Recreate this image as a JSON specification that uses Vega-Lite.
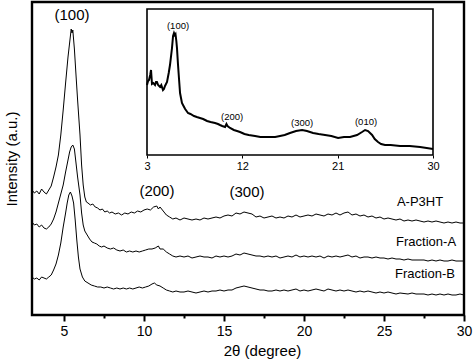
{
"$schema": "https://vega.github.io/schema/vega-lite/v6.json",
"width": 432, "height": 313,
"autosize": "none",
"padding": {"left": 32, "top": 2, "right": 10, "bottom": 49},
"config": {"font": "Liberation Sans", "view": {"stroke": "black", "strokeWidth": 2.4}, "axis": {"grid": false, "labelColor": "black", "titleColor": "black", "tickColor": "black"}},
"datasets": {
"main": [
{"s":"A","t":3.0,"I":125},{"s":"A","t":3.15,"I":122},{"s":"A","t":3.3,"I":124},{"s":"A","t":3.45,"I":121},{"s":"A","t":3.6,"I":126},{"s":"A","t":3.75,"I":123},{"s":"A","t":3.9,"I":121},{"s":"A","t":4.05,"I":125},{"s":"A","t":4.2,"I":129},{"s":"A","t":4.35,"I":138},{"s":"A","t":4.5,"I":148},{"s":"A","t":4.65,"I":160},{"s":"A","t":4.8,"I":180},{"s":"A","t":4.95,"I":205},{"s":"A","t":5.1,"I":232},{"s":"A","t":5.25,"I":258},{"s":"A","t":5.35,"I":272},{"s":"A","t":5.45,"I":286},{"s":"A","t":5.5,"I":282},{"s":"A","t":5.55,"I":285},{"s":"A","t":5.65,"I":266},{"s":"A","t":5.75,"I":240},{"s":"A","t":5.85,"I":215},{"s":"A","t":6.0,"I":180},{"s":"A","t":6.1,"I":150},{"s":"A","t":6.2,"I":130},{"s":"A","t":6.3,"I":118},{"s":"A","t":6.4,"I":113},{"s":"A","t":6.5,"I":112},{"s":"A","t":6.65,"I":110},{"s":"A","t":6.8,"I":111},{"s":"A","t":6.95,"I":108},{"s":"A","t":7.1,"I":107},{"s":"A","t":7.25,"I":105},{"s":"A","t":7.4,"I":106},{"s":"A","t":7.55,"I":103},{"s":"A","t":7.7,"I":104},{"s":"A","t":7.85,"I":102},{"s":"A","t":8.0,"I":103},{"s":"A","t":8.2,"I":101},{"s":"A","t":8.4,"I":102},{"s":"A","t":8.6,"I":100},{"s":"A","t":8.8,"I":102},{"s":"A","t":9.0,"I":101},{"s":"A","t":9.2,"I":103},{"s":"A","t":9.4,"I":102},{"s":"A","t":9.6,"I":104},{"s":"A","t":9.8,"I":103},{"s":"A","t":10.0,"I":105},{"s":"A","t":10.2,"I":106},{"s":"A","t":10.4,"I":105},{"s":"A","t":10.6,"I":108},{"s":"A","t":10.8,"I":109},{"s":"A","t":10.9,"I":106},{"s":"A","t":11.0,"I":108},{"s":"A","t":11.2,"I":104},{"s":"A","t":11.4,"I":100},{"s":"A","t":11.6,"I":98},{"s":"A","t":11.8,"I":96},{"s":"A","t":12.0,"I":97},{"s":"A","t":12.25,"I":95},{"s":"A","t":12.5,"I":97},{"s":"A","t":12.75,"I":96},{"s":"A","t":13.0,"I":95},{"s":"A","t":13.25,"I":96},{"s":"A","t":13.5,"I":95},{"s":"A","t":13.75,"I":97},{"s":"A","t":14.0,"I":96},{"s":"A","t":14.25,"I":97},{"s":"A","t":14.5,"I":98},{"s":"A","t":14.75,"I":97},{"s":"A","t":15.0,"I":99},{"s":"A","t":15.25,"I":100},{"s":"A","t":15.5,"I":99},{"s":"A","t":15.75,"I":102},{"s":"A","t":16.0,"I":101},{"s":"A","t":16.25,"I":103},{"s":"A","t":16.5,"I":102},{"s":"A","t":16.75,"I":101},{"s":"A","t":17.0,"I":98},{"s":"A","t":17.25,"I":99},{"s":"A","t":17.5,"I":97},{"s":"A","t":17.75,"I":98},{"s":"A","t":18.0,"I":99},{"s":"A","t":18.25,"I":97},{"s":"A","t":18.5,"I":98},{"s":"A","t":18.75,"I":97},{"s":"A","t":19.0,"I":99},{"s":"A","t":19.25,"I":98},{"s":"A","t":19.5,"I":100},{"s":"A","t":19.75,"I":98},{"s":"A","t":20.0,"I":99},{"s":"A","t":20.25,"I":100},{"s":"A","t":20.5,"I":99},{"s":"A","t":20.75,"I":101},{"s":"A","t":21.0,"I":100},{"s":"A","t":21.25,"I":99},{"s":"A","t":21.5,"I":101},{"s":"A","t":21.75,"I":100},{"s":"A","t":22.0,"I":102},{"s":"A","t":22.25,"I":100},{"s":"A","t":22.5,"I":102},{"s":"A","t":22.75,"I":103},{"s":"A","t":23.0,"I":100},{"s":"A","t":23.25,"I":101},{"s":"A","t":23.5,"I":99},{"s":"A","t":23.75,"I":100},{"s":"A","t":24.0,"I":98},{"s":"A","t":24.25,"I":99},{"s":"A","t":24.5,"I":97},{"s":"A","t":24.75,"I":98},{"s":"A","t":25.0,"I":96},{"s":"A","t":25.25,"I":97},{"s":"A","t":25.5,"I":96},{"s":"A","t":25.75,"I":95},{"s":"A","t":26.0,"I":96},{"s":"A","t":26.25,"I":94},{"s":"A","t":26.5,"I":95},{"s":"A","t":26.75,"I":94},{"s":"A","t":27.0,"I":95},{"s":"A","t":27.5,"I":93},{"s":"A","t":27.75,"I":94},{"s":"A","t":28.0,"I":93},{"s":"A","t":28.25,"I":94},{"s":"A","t":28.5,"I":93},{"s":"A","t":28.75,"I":92},{"s":"A","t":29.0,"I":93},{"s":"A","t":29.25,"I":92},{"s":"A","t":29.5,"I":93},{"s":"A","t":29.75,"I":92},{"s":"A","t":30.0,"I":92},
{"s":"FA","t":3.0,"I":93},{"s":"FA","t":3.15,"I":90},{"s":"FA","t":3.3,"I":91},{"s":"FA","t":3.45,"I":88},{"s":"FA","t":3.6,"I":90},{"s":"FA","t":3.75,"I":87},{"s":"FA","t":3.9,"I":86},{"s":"FA","t":4.05,"I":88},{"s":"FA","t":4.2,"I":91},{"s":"FA","t":4.35,"I":96},{"s":"FA","t":4.5,"I":103},{"s":"FA","t":4.65,"I":112},{"s":"FA","t":4.8,"I":121},{"s":"FA","t":4.95,"I":130},{"s":"FA","t":5.1,"I":143},{"s":"FA","t":5.25,"I":155},{"s":"FA","t":5.35,"I":163},{"s":"FA","t":5.45,"I":168},{"s":"FA","t":5.55,"I":170},{"s":"FA","t":5.65,"I":166},{"s":"FA","t":5.75,"I":152},{"s":"FA","t":5.85,"I":138},{"s":"FA","t":6.0,"I":120},{"s":"FA","t":6.1,"I":102},{"s":"FA","t":6.2,"I":90},{"s":"FA","t":6.3,"I":84},{"s":"FA","t":6.45,"I":80},{"s":"FA","t":6.6,"I":76},{"s":"FA","t":6.75,"I":73},{"s":"FA","t":6.9,"I":72},{"s":"FA","t":7.05,"I":71},{"s":"FA","t":7.2,"I":69},{"s":"FA","t":7.35,"I":68},{"s":"FA","t":7.5,"I":69},{"s":"FA","t":7.7,"I":67},{"s":"FA","t":7.9,"I":66},{"s":"FA","t":8.1,"I":67},{"s":"FA","t":8.3,"I":65},{"s":"FA","t":8.5,"I":64},{"s":"FA","t":8.7,"I":65},{"s":"FA","t":8.9,"I":63},{"s":"FA","t":9.1,"I":64},{"s":"FA","t":9.3,"I":63},{"s":"FA","t":9.5,"I":64},{"s":"FA","t":9.7,"I":63},{"s":"FA","t":9.9,"I":64},{"s":"FA","t":10.1,"I":65},{"s":"FA","t":10.3,"I":66},{"s":"FA","t":10.5,"I":66},{"s":"FA","t":10.7,"I":67},{"s":"FA","t":10.9,"I":69},{"s":"FA","t":11.0,"I":66},{"s":"FA","t":11.2,"I":66},{"s":"FA","t":11.4,"I":63},{"s":"FA","t":11.6,"I":61},{"s":"FA","t":11.8,"I":59},{"s":"FA","t":12.0,"I":58},{"s":"FA","t":12.25,"I":59},{"s":"FA","t":12.5,"I":58},{"s":"FA","t":12.75,"I":59},{"s":"FA","t":13.0,"I":57},{"s":"FA","t":13.25,"I":58},{"s":"FA","t":13.5,"I":59},{"s":"FA","t":13.75,"I":58},{"s":"FA","t":14.0,"I":58},{"s":"FA","t":14.25,"I":57},{"s":"FA","t":14.5,"I":59},{"s":"FA","t":14.75,"I":58},{"s":"FA","t":15.0,"I":59},{"s":"FA","t":15.25,"I":58},{"s":"FA","t":15.5,"I":59},{"s":"FA","t":15.75,"I":61},{"s":"FA","t":16.0,"I":60},{"s":"FA","t":16.25,"I":62},{"s":"FA","t":16.5,"I":61},{"s":"FA","t":16.75,"I":60},{"s":"FA","t":17.0,"I":59},{"s":"FA","t":17.25,"I":59},{"s":"FA","t":17.5,"I":58},{"s":"FA","t":17.75,"I":59},{"s":"FA","t":18.0,"I":58},{"s":"FA","t":18.25,"I":59},{"s":"FA","t":18.5,"I":57},{"s":"FA","t":18.75,"I":58},{"s":"FA","t":19.0,"I":59},{"s":"FA","t":19.25,"I":58},{"s":"FA","t":19.5,"I":60},{"s":"FA","t":19.75,"I":58},{"s":"FA","t":20.0,"I":59},{"s":"FA","t":20.25,"I":58},{"s":"FA","t":20.5,"I":59},{"s":"FA","t":20.75,"I":58},{"s":"FA","t":21.0,"I":59},{"s":"FA","t":21.25,"I":57},{"s":"FA","t":21.5,"I":59},{"s":"FA","t":21.75,"I":58},{"s":"FA","t":22.0,"I":59},{"s":"FA","t":22.25,"I":58},{"s":"FA","t":22.5,"I":59},{"s":"FA","t":22.75,"I":60},{"s":"FA","t":23.0,"I":58},{"s":"FA","t":23.25,"I":59},{"s":"FA","t":23.5,"I":57},{"s":"FA","t":23.75,"I":58},{"s":"FA","t":24.0,"I":58},{"s":"FA","t":24.25,"I":57},{"s":"FA","t":24.5,"I":58},{"s":"FA","t":24.75,"I":57},{"s":"FA","t":25.0,"I":57},{"s":"FA","t":25.25,"I":56},{"s":"FA","t":25.5,"I":57},{"s":"FA","t":25.75,"I":56},{"s":"FA","t":26.0,"I":56},{"s":"FA","t":26.25,"I":55},{"s":"FA","t":26.5,"I":56},{"s":"FA","t":26.75,"I":55},{"s":"FA","t":27.0,"I":55},{"s":"FA","t":27.5,"I":55},{"s":"FA","t":27.75,"I":54},{"s":"FA","t":28.0,"I":55},{"s":"FA","t":28.25,"I":54},{"s":"FA","t":28.5,"I":55},{"s":"FA","t":28.75,"I":54},{"s":"FA","t":29.0,"I":54},{"s":"FA","t":29.25,"I":55},{"s":"FA","t":29.5,"I":54},{"s":"FA","t":29.75,"I":54},{"s":"FA","t":30.0,"I":54},
{"s":"FB","t":3.0,"I":38},{"s":"FB","t":3.15,"I":36},{"s":"FB","t":3.3,"I":37},{"s":"FB","t":3.45,"I":35},{"s":"FB","t":3.6,"I":38},{"s":"FB","t":3.75,"I":37},{"s":"FB","t":3.9,"I":36},{"s":"FB","t":4.05,"I":38},{"s":"FB","t":4.2,"I":40},{"s":"FB","t":4.35,"I":45},{"s":"FB","t":4.5,"I":51},{"s":"FB","t":4.65,"I":60},{"s":"FB","t":4.8,"I":72},{"s":"FB","t":4.95,"I":88},{"s":"FB","t":5.1,"I":102},{"s":"FB","t":5.2,"I":112},{"s":"FB","t":5.3,"I":120},{"s":"FB","t":5.4,"I":123},{"s":"FB","t":5.5,"I":119},{"s":"FB","t":5.6,"I":112},{"s":"FB","t":5.7,"I":95},{"s":"FB","t":5.8,"I":75},{"s":"FB","t":5.9,"I":58},{"s":"FB","t":6.0,"I":46},{"s":"FB","t":6.15,"I":38},{"s":"FB","t":6.3,"I":34},{"s":"FB","t":6.5,"I":32},{"s":"FB","t":6.7,"I":30},{"s":"FB","t":6.9,"I":29},{"s":"FB","t":7.1,"I":28},{"s":"FB","t":7.3,"I":28},{"s":"FB","t":7.5,"I":27},{"s":"FB","t":7.7,"I":28},{"s":"FB","t":7.9,"I":27},{"s":"FB","t":8.1,"I":26},{"s":"FB","t":8.3,"I":27},{"s":"FB","t":8.5,"I":26},{"s":"FB","t":8.7,"I":27},{"s":"FB","t":8.9,"I":26},{"s":"FB","t":9.1,"I":27},{"s":"FB","t":9.3,"I":26},{"s":"FB","t":9.5,"I":27},{"s":"FB","t":9.7,"I":28},{"s":"FB","t":9.9,"I":27},{"s":"FB","t":10.1,"I":28},{"s":"FB","t":10.3,"I":29},{"s":"FB","t":10.5,"I":31},{"s":"FB","t":10.65,"I":32},{"s":"FB","t":10.8,"I":30},{"s":"FB","t":11.0,"I":29},{"s":"FB","t":11.2,"I":27},{"s":"FB","t":11.4,"I":25},{"s":"FB","t":11.6,"I":24},{"s":"FB","t":11.8,"I":23},{"s":"FB","t":12.0,"I":24},{"s":"FB","t":12.25,"I":23},{"s":"FB","t":12.5,"I":23},{"s":"FB","t":12.75,"I":24},{"s":"FB","t":13.0,"I":23},{"s":"FB","t":13.25,"I":22},{"s":"FB","t":13.5,"I":23},{"s":"FB","t":13.75,"I":24},{"s":"FB","t":14.0,"I":23},{"s":"FB","t":14.25,"I":24},{"s":"FB","t":14.5,"I":24},{"s":"FB","t":14.75,"I":25},{"s":"FB","t":15.0,"I":24},{"s":"FB","t":15.25,"I":25},{"s":"FB","t":15.5,"I":25},{"s":"FB","t":15.75,"I":27},{"s":"FB","t":16.0,"I":28},{"s":"FB","t":16.25,"I":29},{"s":"FB","t":16.5,"I":28},{"s":"FB","t":16.75,"I":27},{"s":"FB","t":17.0,"I":26},{"s":"FB","t":17.25,"I":25},{"s":"FB","t":17.5,"I":25},{"s":"FB","t":17.75,"I":24},{"s":"FB","t":18.0,"I":24},{"s":"FB","t":18.25,"I":25},{"s":"FB","t":18.5,"I":24},{"s":"FB","t":18.75,"I":25},{"s":"FB","t":19.0,"I":24},{"s":"FB","t":19.25,"I":25},{"s":"FB","t":19.5,"I":26},{"s":"FB","t":19.75,"I":24},{"s":"FB","t":20.0,"I":25},{"s":"FB","t":20.25,"I":24},{"s":"FB","t":20.5,"I":25},{"s":"FB","t":20.75,"I":26},{"s":"FB","t":21.0,"I":25},{"s":"FB","t":21.25,"I":24},{"s":"FB","t":21.5,"I":26},{"s":"FB","t":21.75,"I":25},{"s":"FB","t":22.0,"I":24},{"s":"FB","t":22.25,"I":25},{"s":"FB","t":22.5,"I":24},{"s":"FB","t":22.75,"I":25},{"s":"FB","t":23.0,"I":24},{"s":"FB","t":23.25,"I":23},{"s":"FB","t":23.5,"I":24},{"s":"FB","t":23.75,"I":23},{"s":"FB","t":24.0,"I":24},{"s":"FB","t":24.25,"I":23},{"s":"FB","t":24.5,"I":22},{"s":"FB","t":24.75,"I":23},{"s":"FB","t":25.0,"I":22},{"s":"FB","t":25.25,"I":23},{"s":"FB","t":25.5,"I":22},{"s":"FB","t":25.75,"I":21},{"s":"FB","t":26.0,"I":22},{"s":"FB","t":26.5,"I":21},{"s":"FB","t":26.75,"I":22},{"s":"FB","t":27.0,"I":21},{"s":"FB","t":27.5,"I":21},{"s":"FB","t":27.75,"I":20},{"s":"FB","t":28.0,"I":21},{"s":"FB","t":28.25,"I":20},{"s":"FB","t":28.5,"I":21},{"s":"FB","t":28.75,"I":20},{"s":"FB","t":29.0,"I":21},{"s":"FB","t":29.25,"I":20},{"s":"FB","t":29.5,"I":20},{"s":"FB","t":29.75,"I":21},{"s":"FB","t":30.0,"I":20}
],
"inset": [
{"t":3.0,"I":70},{"t":3.1,"I":74},{"t":3.19,"I":75},{"t":3.3,"I":80},{"t":3.38,"I":85},{"t":3.47,"I":71},{"t":3.6,"I":72},{"t":3.76,"I":70},{"t":3.85,"I":73},{"t":3.94,"I":73},{"t":4.05,"I":70},{"t":4.23,"I":68},{"t":4.35,"I":70},{"t":4.51,"I":65},{"t":4.6,"I":66},{"t":4.7,"I":69},{"t":4.89,"I":73},{"t":5.05,"I":82},{"t":5.17,"I":90},{"t":5.36,"I":107},{"t":5.46,"I":119},{"t":5.55,"I":122},{"t":5.62,"I":120},{"t":5.69,"I":121},{"t":5.77,"I":114},{"t":5.83,"I":107},{"t":5.93,"I":90},{"t":6.03,"I":75},{"t":6.12,"I":62},{"t":6.21,"I":57},{"t":6.3,"I":52},{"t":6.4,"I":50},{"t":6.6,"I":46},{"t":6.87,"I":42},{"t":7.1,"I":41},{"t":7.44,"I":39},{"t":7.7,"I":38},{"t":8.0,"I":37},{"t":8.3,"I":36},{"t":8.67,"I":34},{"t":9.0,"I":33},{"t":9.42,"I":32},{"t":9.7,"I":31},{"t":9.89,"I":30},{"t":10.1,"I":29},{"t":10.37,"I":28},{"t":10.5,"I":31},{"t":10.6,"I":29},{"t":10.84,"I":27},{"t":11.2,"I":25},{"t":11.5,"I":24},{"t":11.78,"I":23},{"t":12.2,"I":21},{"t":12.6,"I":20},{"t":13.2,"I":19},{"t":13.7,"I":18},{"t":14.2,"I":18},{"t":14.61,"I":18},{"t":15.1,"I":18},{"t":15.56,"I":19},{"t":16.0,"I":20},{"t":16.5,"I":22},{"t":17.07,"I":24},{"t":17.64,"I":25},{"t":18.1,"I":24},{"t":18.68,"I":22},{"t":19.2,"I":21},{"t":19.81,"I":20},{"t":20.4,"I":19},{"t":21.04,"I":17},{"t":21.6,"I":18},{"t":22.17,"I":18},{"t":22.5,"I":19},{"t":22.83,"I":20},{"t":23.3,"I":23},{"t":23.59,"I":25},{"t":23.87,"I":24},{"t":24.25,"I":20},{"t":24.5,"I":16},{"t":24.81,"I":13},{"t":25.1,"I":11},{"t":25.47,"I":10},{"t":26.0,"I":10},{"t":26.89,"I":9},{"t":27.8,"I":9},{"t":28.78,"I":8},{"t":29.4,"I":7},{"t":30.0,"I":6}
],
"frame": [{"t0": 3, "t1": 30, "I0": 0, "I1": 146}],
"peaks": [{"label": "(100)", "t": 5.5, "I": 300}, {"label": "(200)", "t": 10.81, "I": 124}, {"label": "(300)", "t": 16.44, "I": 123}],
"names": [{"label": "A-P3HT", "t": 27.25, "I": 113}, {"label": "Fraction-A", "t": 27.63, "I": 73}, {"label": "Fraction-B", "t": 27.56, "I": 41}],
"insetpeaks": [{"label": "(100)", "t": 5.93, "I": 129}, {"label": "(200)", "t": 11.03, "I": 38}, {"label": "(300)", "t": 17.64, "I": 32}, {"label": "(010)", "t": 23.68, "I": 33}]
},
"layer": [
 {"data": {"name": "main"}, "mark": {"type": "line", "color": "black", "strokeWidth": 1},
  "encoding": {
   "x": {"field": "t", "type": "quantitative", "scale": {"domain": [3, 30], "nice": false, "zero": false},
    "axis": {"values": [5,7.5,10,12.5,15,17.5,20,22.5,25,27.5,30], "labelExpr": "datum.value % 5 === 0 ? datum.label : ''", "tickSize": {"condition": {"test": "datum.value % 5 === 0", "value": 6}, "value": 3}, "tickWidth": 2, "domain": false, "labelFontSize": 14, "labelPadding": 3, "labelFlush": false, "labelOverlap": false, "title": "2θ (degree)", "titleFontSize": 15, "titleFontWeight": "normal", "titlePadding": 5, "titleX": 230}},
   "y": {"field": "I", "type": "quantitative", "scale": {"domain": [0, 313], "nice": false},
    "axis": {"ticks": false, "labels": false, "domain": false, "title": "Intensity (a.u.)", "titleFontSize": 15, "titleFontWeight": "normal", "titlePadding": 13}},
   "detail": {"field": "s"}
  }},
 {"data": {"name": "peaks"},
  "mark": {"type": "text", "fontSize": 15, "color": "black"},
  "encoding": {"x": {"field": "t", "type": "quantitative", "scale": {"domain": [3, 30], "nice": false, "zero": false}, "axis": null}, "y": {"field": "I", "type": "quantitative", "scale": {"domain": [0, 313], "nice": false}, "axis": null}, "text": {"field": "label"}}},
 {"data": {"name": "names"},
  "mark": {"type": "text", "fontSize": 13, "color": "black"},
  "encoding": {"x": {"field": "t", "type": "quantitative", "scale": {"domain": [3, 30], "nice": false, "zero": false}, "axis": null}, "y": {"field": "I", "type": "quantitative", "scale": {"domain": [0, 313], "nice": false}, "axis": null}, "text": {"field": "label"}}},
 {"data": {"name": "frame"}, "mark": {"type": "rect", "fill": "white", "stroke": "black", "strokeWidth": 1.6},
  "encoding": {"x": {"field": "t0", "type": "quantitative", "scale": {"domain": [3, 30], "nice": false, "zero": false, "range": [115, 401]}, "axis": null}, "x2": {"field": "t1"}, "y": {"field": "I0", "type": "quantitative", "scale": {"domain": [0, 146], "nice": false, "range": [153, 7]}, "axis": null}, "y2": {"field": "I1"}}},
 {"data": {"name": "inset"}, "mark": {"type": "line", "color": "black", "strokeWidth": 2},
  "encoding": {
   "x": {"field": "t", "type": "quantitative", "scale": {"domain": [3, 30], "nice": false, "zero": false, "range": [115, 401]},
    "axis": {"orient": "bottom", "offset": -160, "values": [3, 12, 21, 30], "tickSize": 3, "tickWidth": 1, "domain": false, "labelFontSize": 11, "labelPadding": 2, "labelFlush": false, "title": null}},
   "y": {"field": "I", "type": "quantitative", "scale": {"domain": [0, 146], "nice": false, "range": [153, 7]}, "axis": null}
  }},
 {"data": {"name": "insetpeaks"},
  "mark": {"type": "text", "fontSize": 9.5, "color": "black"},
  "encoding": {"x": {"field": "t", "type": "quantitative", "scale": {"domain": [3, 30], "nice": false, "zero": false, "range": [115, 401]}, "axis": null}, "y": {"field": "I", "type": "quantitative", "scale": {"domain": [0, 146], "nice": false, "range": [153, 7]}, "axis": null}, "text": {"field": "label"}}}
],
"resolve": {"scale": {"x": "independent", "y": "independent"}, "axis": {"x": "independent", "y": "independent"}}
}
